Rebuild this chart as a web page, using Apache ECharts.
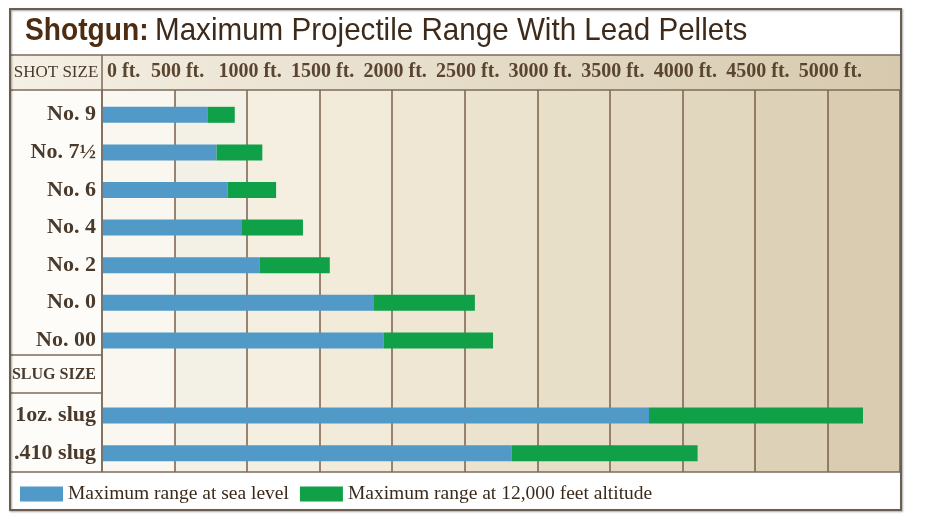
<!DOCTYPE html>
<html>
<head>
<meta charset="utf-8">
<script src="https://cdn.jsdelivr.net/npm/echarts@6/dist/echarts.min.js"></script>
<style>
html,body{margin:0;padding:0;background:#fff;}
#c{width:950px;height:532px;}
</style>
</head>
<body>
<div id="c"></div>
<script>
// ---- data ----
const categories = ['No. 9', 'No. 7½', 'No. 6', 'No. 4', 'No. 2', 'No. 0', 'No. 00', 'SLUG SIZE', '1oz. slug', '.410 slug'];
const seaLevel   = [730, 790, 865, 960, 1085, 1870, 1940, '-', 3770, 2825];   // ft
const altitudeExtra = [185, 315, 335, 425, 485, 700, 755, '-', 1475, 1280]; // ft added at 12,000 ft
const tickLabels = ['0 ft.', '500 ft.', '1000 ft.', '1500 ft.', '2000 ft.', '2500 ft.', '3000 ft.', '3500 ft.', '4000 ft.', '4500 ft.', '5000 ft.'];
const seriesNames = ['Maximum range at sea level', 'Maximum range at 12,000 feet altitude'];
const titleBold = 'Shotgun:';
const titleRest = 'Maximum Projectile Range With Lead Pellets';
const headerLabel = 'SHOT SIZE';

const SERIF = '"Liberation Serif", "DejaVu Serif", serif';
const SANS = '"Liberation Sans", Arial, sans-serif';
const colAreas = ['#faf7f0','#f3f0e6','#f5efe1','#f2ebda','#efe7d4','#ece3cf','#e8dfc9','#e5dbc4','#e1d6be','#ddd1b8','#d9ccb1'];
const gridLineColor = '#7a5f48';

const chart = echarts.init(document.getElementById('c'), null, {renderer: 'canvas'});

const xBase = {
  type: 'value', min: 0, max: 5500, interval: 500, position: 'top',
  axisLine: {show: false}, axisTick: {show: false},
  splitLine: {show: true, lineStyle: {color: gridLineColor, width: 1.5}},
  splitArea: {show: true, areaStyle: {color: colAreas}}
};

const option = {
  backgroundColor: '#ffffff',
  animation: false,
  graphic: [
    // title (condensed via horizontal scale)
    {type: 'text', z: 12, x: 25, y: 31, scaleX: 0.88,
      style: {text: titleBold, verticalAlign: 'middle', align: 'left',
        font: 'bold 32px ' + SANS, fill: '#4f2c10'}},
    {type: 'text', z: 12, x: 155, y: 31, scaleX: 0.925,
      style: {text: titleRest, verticalAlign: 'middle', align: 'left',
        font: '32px ' + SANS, fill: '#3d2a1a'}},
    // header band
    {type: 'rect', z: -1, shape: {x: 10, y: 55, width: 891, height: 35},
      style: {fill: new echarts.graphic.LinearGradient(0, 0, 1, 0, [
        {offset: 0, color: '#f5f0e5'}, {offset: 1, color: '#d6c9ad'}])}},
    // left label column background
    {type: 'rect', z: -1, shape: {x: 10, y: 90, width: 92, height: 382}, style: {fill: '#fdfcf9'}},
    // lines
    {type: 'line', z: 10, shape: {x1: 10, y1: 55, x2: 901, y2: 55}, style: {stroke: '#7d6b58', lineWidth: 1.5}},
    {type: 'line', z: 10, shape: {x1: 10, y1: 90, x2: 901, y2: 90}, style: {stroke: '#7d6b58', lineWidth: 1.5}},
    {type: 'line', z: 10, shape: {x1: 102, y1: 55, x2: 102, y2: 472}, style: {stroke: '#7d6b58', lineWidth: 1.5}},
    {type: 'line', z: 10, shape: {x1: 10, y1: 355, x2: 102, y2: 355}, style: {stroke: '#7d6b58', lineWidth: 1.5}},
    {type: 'line', z: 10, shape: {x1: 10, y1: 393, x2: 102, y2: 393}, style: {stroke: '#7d6b58', lineWidth: 1.5}},
    {type: 'line', z: 10, shape: {x1: 10, y1: 472, x2: 901, y2: 472}, style: {stroke: '#7d6b58', lineWidth: 1.5}},
    // outer frame
    {type: 'rect', z: 11, shape: {x: 10, y: 9, width: 891, height: 501},
      style: {fill: null, stroke: '#6b5d50', lineWidth: 2, shadowColor: 'rgba(0,0,0,0.35)', shadowBlur: 2, shadowOffsetX: 1, shadowOffsetY: 1}},
    // header label
    {type: 'text', z: 12, style: {x: 56, y: 73, text: headerLabel, align: 'center', verticalAlign: 'middle',
      font: '17px ' + SERIF, fill: '#4a3a2c'}}
  ],
  legend: {
    left: 15, top: 479, itemWidth: 43, itemHeight: 15, itemGap: 11, icon: 'rect',
    data: seriesNames,
    textStyle: {fontFamily: SERIF, fontSize: 19.5, color: '#3b2a1c'}
  },
  grid: [
    {left: 102, right: 50, top: 96, height: 376, containLabel: false},
    {left: 102, right: 50, top: 90, height: 6, containLabel: false}
  ],
  xAxis: [
    Object.assign({}, xBase, {
      gridIndex: 0,
      axisLabel: {
        show: true, margin: 14, showMaxLabel: false, alignMinLabel: 'left',
        fontFamily: SERIF, fontWeight: 'bold', fontSize: 20, color: '#5a4531',
        formatter: function (v) {
          const i = Math.round(v / 500);
          if (i >= tickLabels.length) return '';
          return i === 0 ? '{f|' + tickLabels[i] + '}' : '{n|' + tickLabels[i] + '}';
        },
        rich: {
          f: {fontFamily: SERIF, fontWeight: 'bold', fontSize: 20, color: '#5a4531', padding: [0, 0, 0, 5]},
          n: {fontFamily: SERIF, fontWeight: 'bold', fontSize: 20, color: '#5a4531', padding: [0, 0, 0, 6]}
        }
      }
    }),
    Object.assign({}, xBase, {gridIndex: 1, axisLabel: {show: false}})
  ],
  yAxis: [
    {
      type: 'category', gridIndex: 0, inverse: true, data: categories,
      axisLine: {show: false}, axisTick: {show: false}, splitLine: {show: false},
      axisLabel: {
        margin: 6,
        formatter: function (v) { return v === 'SLUG SIZE' ? '{s|' + v + '}' : '{c|' + v + '}'; },
        rich: {
          c: {fontFamily: SERIF, fontWeight: 'bold', fontSize: 22, color: '#4a3a2c'},
          s: {fontFamily: SERIF, fontWeight: 'bold', fontSize: 16, color: '#4a3a2c', padding: [0, 0, 6, 0]}
        }
      }
    },
    {type: 'category', gridIndex: 1, data: ['x'], show: false}
  ],
  series: [
    {
      name: seriesNames[0], type: 'bar', stack: 'range', xAxisIndex: 0, yAxisIndex: 0,
      data: seaLevel, barWidth: 16, itemStyle: {color: '#5199c6'}
    },
    {
      name: seriesNames[1], type: 'bar', stack: 'range', xAxisIndex: 0, yAxisIndex: 0,
      data: altitudeExtra, barWidth: 16, itemStyle: {color: '#10a048'}
    }
  ]
};
chart.setOption(option);
</script>
</body>
</html>
